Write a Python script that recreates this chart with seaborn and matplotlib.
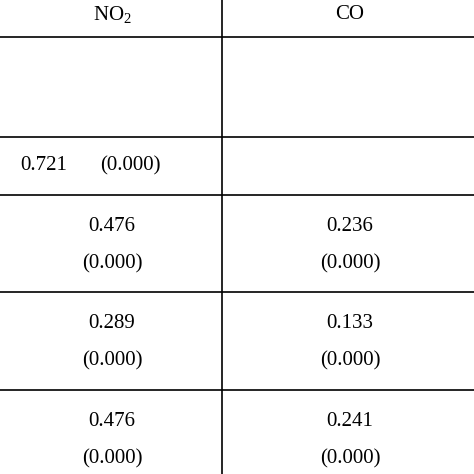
import matplotlib
matplotlib.use("Agg")
import matplotlib.pyplot as plt
import seaborn as sns

sns.set_theme(style="white")
plt.rcParams['font.family'] = ['Liberation Serif', 'DejaVu Serif']
plt.rcParams['mathtext.fontset'] = 'custom'
plt.rcParams['mathtext.rm'] = 'Liberation Serif'
plt.rcParams['text.color'] = 'black'

headers = ["NO$\\mathrm{_2}$", "CO"]
row_single_val = "0.721"
row_single_p = "(0.000)"
no2_vals = ["0.476", "0.289", "0.476"]
co_vals = ["0.236", "0.133", "0.241"]
pvals_no2 = ["(0.000)", "(0.000)", "(0.000)"]
pvals_co = ["(0.000)", "(0.000)", "(0.000)"]

fig = plt.figure(figsize=(4.74, 4.74), dpi=100)
ax = fig.add_axes([0, 0, 1, 1])
ax.set_xlim(0, 474)
ax.set_ylim(474, 0)
ax.axis("off")

lw = 1.2
for y in [37, 137, 195, 292, 390]:
    ax.axhline(y, color="black", lw=lw)
ax.axvline(222, color="black", lw=lw)

fs = 15
ax.text(112, 14, headers[0], ha="center", va="center", fontsize=fs, color="black")
ax.text(350, 14, headers[1], ha="center", va="center", fontsize=fs, color="black")
ax.text(20, 166, row_single_val, ha="left", va="center", fontsize=fs, color="black")
ax.text(100, 166, row_single_p, ha="left", va="center", fontsize=fs, color="black")

row_tops = [195, 292, 390]
for i, top in enumerate(row_tops):
    ax.text(112, top + 31, no2_vals[i], ha="center", va="center", fontsize=fs, color="black")
    ax.text(112, top + 69, pvals_no2[i], ha="center", va="center", fontsize=fs, color="black")
    ax.text(350, top + 31, co_vals[i], ha="center", va="center", fontsize=fs, color="black")
    ax.text(350, top + 69, pvals_co[i], ha="center", va="center", fontsize=fs, color="black")

fig.savefig("out.png", dpi=100)
